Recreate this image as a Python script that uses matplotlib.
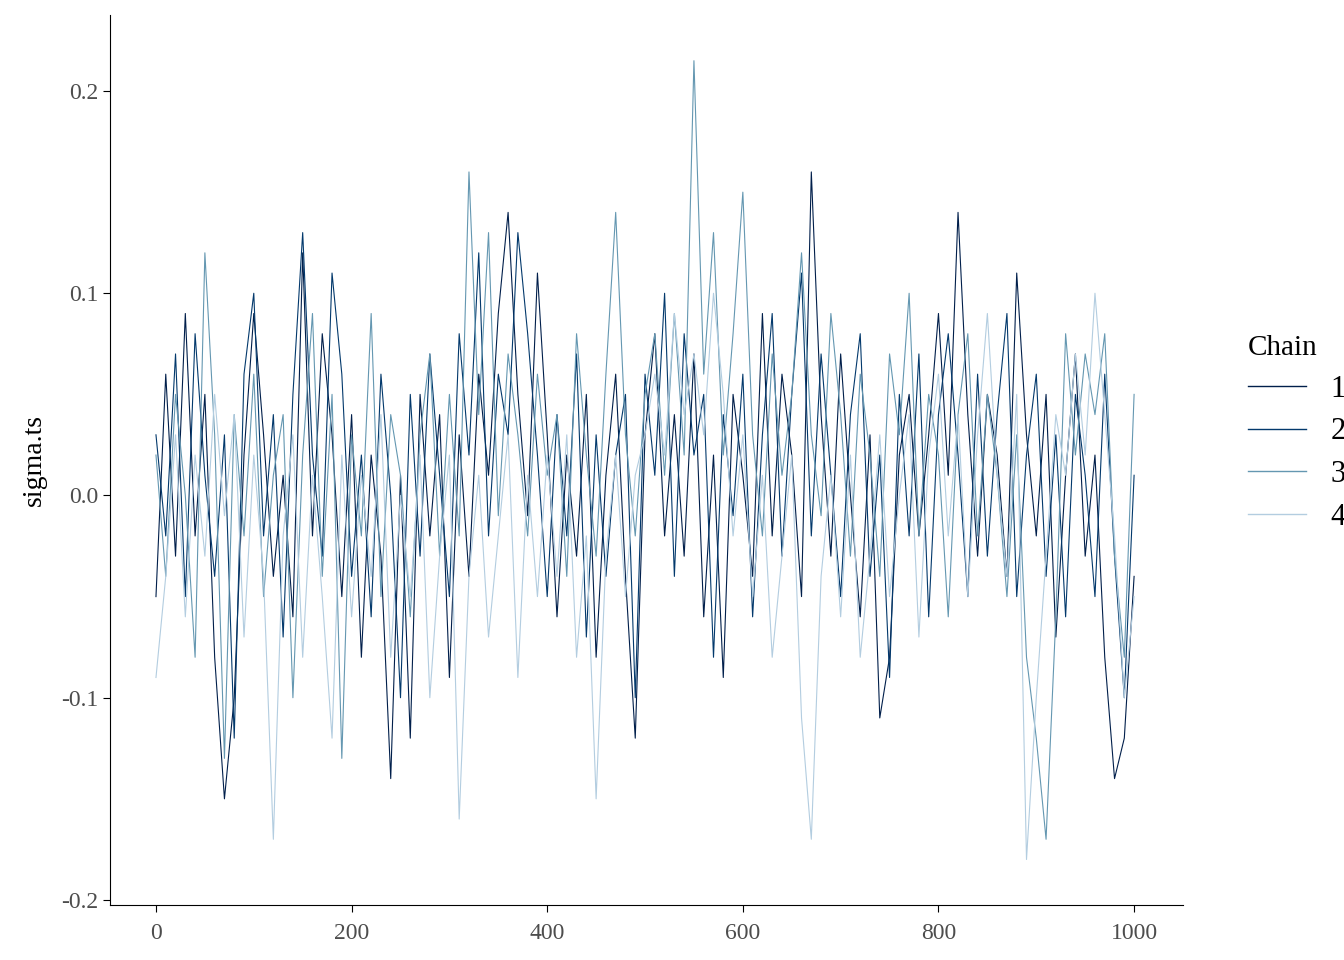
import matplotlib
matplotlib.use("Agg")
import matplotlib.pyplot as plt
import numpy as np

iterations = list(range(0, 1001, 10))
chain1 = [-0.05,0.06,-0.03,0.09,-0.02,0.05,-0.08,-0.15,-0.10,0.02,0.09,0.03,-0.04,0.01,-0.06,0.12,-0.02,0.08,0.03,-0.05,
          0.04,-0.08,0.02,-0.03,-0.14,0.01,-0.12,0.05,-0.02,0.04,-0.09,0.03,-0.04,0.06,0.01,0.09,0.14,0.05,-0.01,0.11,
          0.03,-0.06,0.02,-0.03,0.05,-0.08,0.01,0.06,-0.04,-0.12,0.03,0.08,-0.02,0.04,-0.03,0.07,-0.06,0.02,-0.09,0.05,
          0.01,-0.04,0.09,-0.02,0.06,0.02,-0.05,0.16,0.04,-0.03,0.07,0.00,-0.06,0.03,-0.11,-0.08,0.02,0.05,-0.02,0.03,
          0.09,0.01,0.14,0.04,-0.03,0.05,0.02,-0.04,0.11,0.03,-0.02,0.05,-0.07,0.01,0.07,-0.03,0.02,-0.08,-0.14,-0.12,-0.04]
chain2 = [0.03,-0.02,0.07,-0.05,0.08,0.01,-0.04,0.03,-0.12,0.06,0.10,-0.02,0.04,-0.07,0.05,0.13,0.02,-0.03,0.11,0.06,
          -0.04,0.02,-0.06,0.06,0.00,-0.10,0.05,-0.03,0.07,0.01,-0.05,0.08,0.02,0.12,-0.02,0.06,0.03,0.13,0.08,0.02,
          -0.05,0.04,-0.02,0.07,-0.07,0.03,-0.04,0.02,0.05,-0.10,0.06,0.01,0.10,-0.04,0.08,0.02,0.05,-0.08,0.04,-0.01,
          0.06,-0.06,0.03,0.09,-0.03,0.05,0.11,-0.02,0.07,0.01,-0.05,0.04,0.08,-0.04,0.02,-0.09,0.05,-0.02,0.07,-0.06,
          0.04,0.08,0.02,-0.05,0.06,-0.03,0.04,0.09,-0.05,0.02,0.06,-0.04,0.03,-0.06,0.05,0.01,-0.05,0.06,-0.03,-0.10,0.01]
chain3 = [0.02,-0.04,0.05,0.00,-0.08,0.12,0.03,-0.13,0.04,-0.02,0.06,-0.05,0.01,0.04,-0.10,0.02,0.09,-0.04,0.05,-0.13,
          0.03,-0.02,0.09,-0.05,0.04,0.01,-0.06,0.03,0.07,-0.03,0.05,-0.02,0.16,0.04,0.13,-0.01,0.07,0.03,-0.02,0.06,
          0.01,0.04,-0.04,0.08,0.02,-0.03,0.06,0.14,0.03,-0.02,0.05,0.08,0.01,0.09,0.02,0.215,0.06,0.13,0.02,0.08,
          0.15,0.03,-0.02,0.07,0.01,0.05,0.12,0.03,-0.01,0.09,0.04,-0.03,0.06,0.02,-0.04,0.07,0.03,0.10,-0.02,0.05,
          0.02,-0.06,0.04,0.08,-0.02,0.05,0.01,-0.05,0.03,-0.08,-0.12,-0.17,-0.06,0.08,0.02,0.07,0.04,0.08,-0.03,-0.08,0.05]
chain4 = [-0.09,-0.04,0.03,-0.06,0.02,-0.03,0.05,-0.01,0.04,-0.07,0.02,-0.04,-0.17,-0.02,0.03,-0.08,0.01,-0.05,-0.12,0.02,
          -0.06,0.01,-0.04,0.04,-0.08,0.00,-0.05,0.02,-0.10,-0.03,0.02,-0.16,-0.04,0.01,-0.07,-0.02,0.03,-0.09,0.01,-0.05,
          0.02,-0.04,0.03,-0.08,-0.02,-0.15,-0.03,0.02,-0.05,0.01,0.03,0.06,0.02,0.09,0.04,0.07,0.03,0.10,0.05,-0.02,
          0.03,-0.05,0.01,-0.08,-0.03,0.02,-0.11,-0.17,-0.04,0.01,-0.06,0.02,-0.08,-0.03,0.03,-0.05,0.00,0.04,-0.07,0.02,
          0.06,-0.02,0.04,-0.05,0.03,0.09,0.01,-0.04,0.05,-0.18,-0.10,-0.03,0.04,0.01,0.07,0.02,0.10,0.04,-0.02,-0.10,-0.05]
chains = ["1", "2", "3", "4"]
colors = ["#011f4b", "#03396c", "#6497b1", "#b3cde0"]

plt.rcParams['font.family'] = ['Liberation Serif', 'DejaVu Serif']
fig = plt.figure(figsize=(13.44, 9.6), dpi=100)
ax = fig.add_axes([110/1344, 55/960, (1183-110)/1344, (905-15)/960])
for lab, vals, c in zip(chains, [chain1, chain2, chain3, chain4], colors):
    ax.plot(iterations, vals, color=c, lw=0.8, label=lab)
ax.set_xlim(-47, 1050)
ax.set_ylim(-0.2025, 0.2376)
ax.set_xticks([0, 200, 400, 600, 800, 1000])
ax.set_yticks([-0.2, -0.1, 0.0, 0.1, 0.2])
ax.set_yticklabels(["-0.2", "-0.1", "0.0", "0.1", "0.2"])
for s in ["top", "right"]:
    ax.spines[s].set_visible(False)
ax.tick_params(labelsize=17, labelcolor="#4d4d4d", length=5)
ax.tick_params(axis="x", pad=8)
ax.set_ylabel("sigma.ts", fontsize=20, labelpad=10)
leg = ax.legend(title="Chain", loc="center left", bbox_to_anchor=(1.035, 0.53), frameon=False,
                fontsize=22, title_fontsize=21, handlelength=1.9, labelspacing=0.45,
                alignment="left")
for h in leg.get_lines():
    h.set_linewidth(1.0)
fig.savefig("out.png", dpi=100)
